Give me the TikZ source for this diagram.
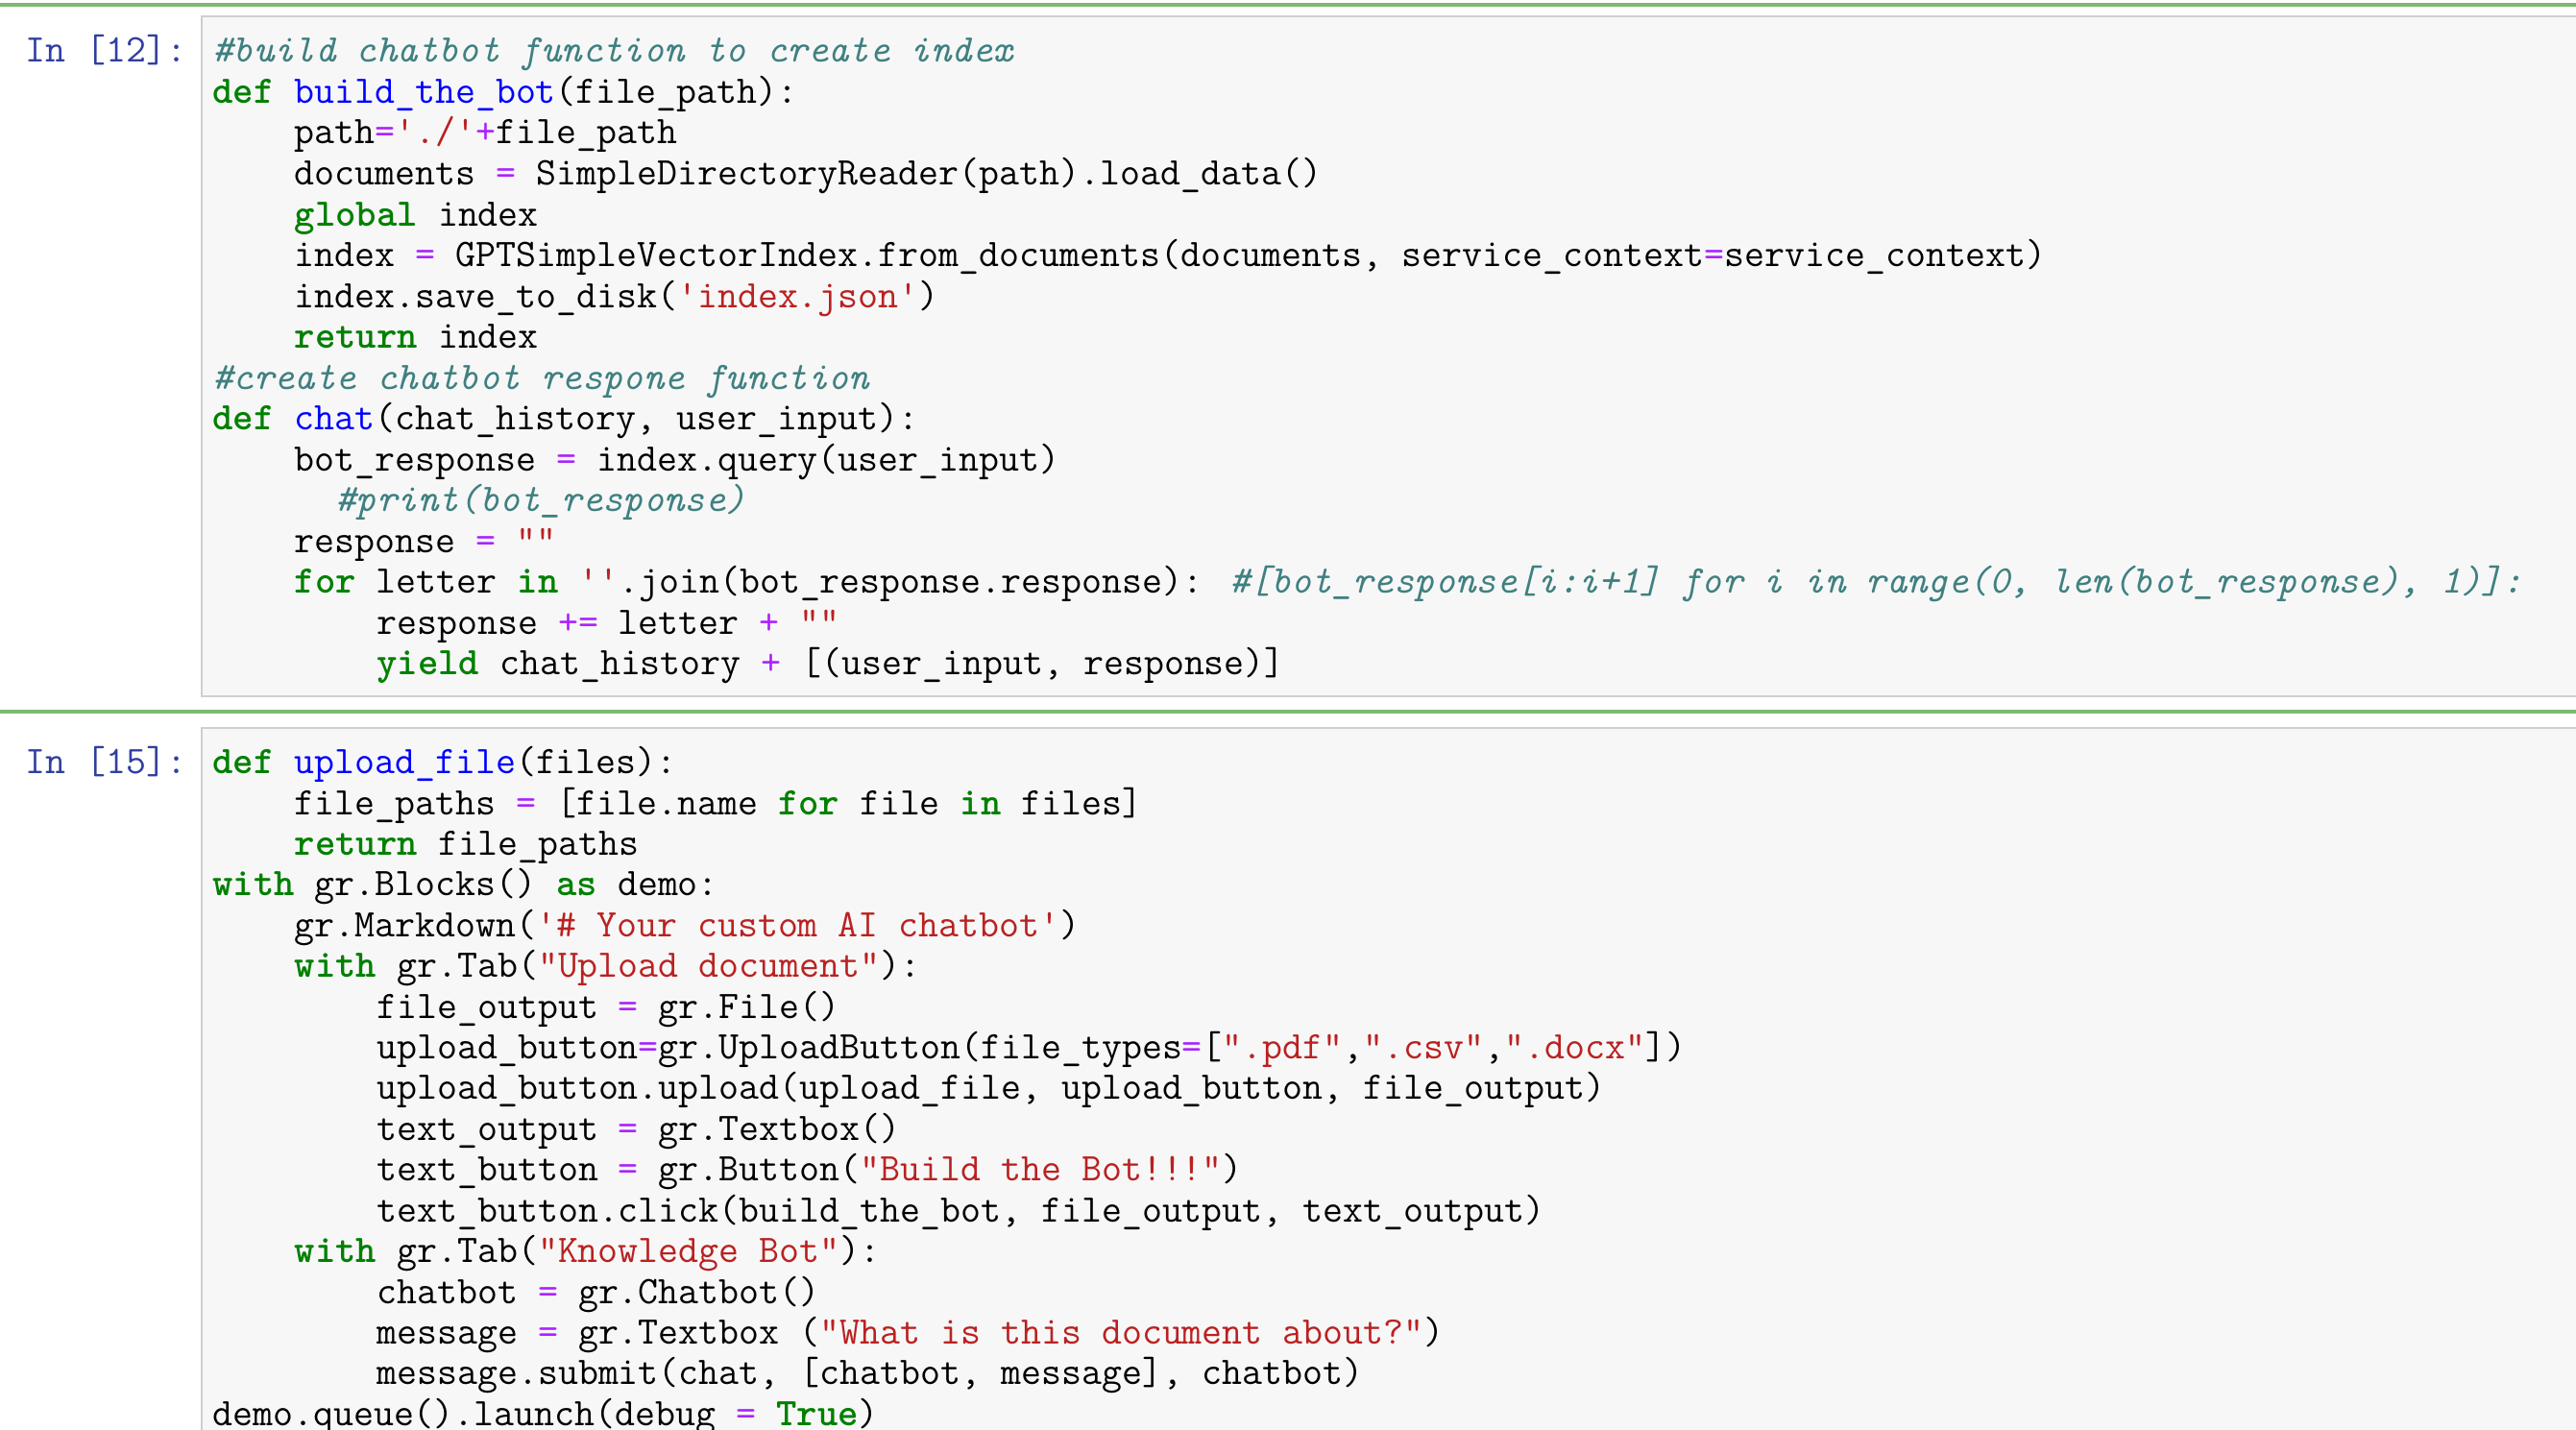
\documentclass[tikz,border=0pt]{standalone}
\usepackage{xcolor}
\definecolor{kwc}{HTML}{008000}
\definecolor{fnc}{HTML}{0000FF}
\definecolor{stc}{HTML}{BA2121}
\definecolor{opc}{HTML}{AA22FF}
\definecolor{cmc}{HTML}{408080}
\definecolor{prc}{HTML}{303F9F}
\definecolor{cellbg}{HTML}{F7F7F7}
\definecolor{cellbd}{HTML}{CFCFCF}
\definecolor{selc}{HTML}{7DBA6F}
\newcommand{\Kw}[1]{{\bfseries\color{kwc}#1}}
\newcommand{\Fn}[1]{{\color{fnc}#1}}
\newcommand{\Str}[1]{{\color{stc}#1}}
\newcommand{\Op}[1]{{\color{opc}#1}}
\newcommand{\Cm}[1]{{\itshape\color{cmc}#1}}
\newcommand{\sQ}{\textquotesingle}
\newcommand{\dQ}{\textquotedbl}
\tikzset{
  code/.style={anchor=base west, inner sep=0pt, font=\ttfamily\fontsize{11.9}{13}\selectfont},
  prompt/.style={code, text=prc},
  cellbox/.style={fill=cellbg, draw=cellbd, line width=0.6pt},
}
\begin{document}
\begin{tikzpicture}[x=0.5pt,y=-0.5pt]
\useasboundingbox (0,0) rectangle (1568,870);
\clip (0,0) rectangle (1568,870);
\fill[white] (0,0) rectangle (1568,870);
\draw[selc, line width=1.2pt] (0,3) -- (1568,3);
\draw[selc, line width=1.2pt] (0,433) -- (1568,433);
\draw[cellbox] (1575,10) -- (123,10) -- (123,424) -- (1575,424);
\draw[cellbox] (1575,443) -- (123,443) -- (123,880) -- (1575,880);
\def\cx#1{129+12.5*#1}
% cell 1
\node[prompt] (p1) at (15,38) {In [12]:};
\node[code] (a0) at (\cx{0},38.0) {\Cm{\#build chatbot function to create index}};
\node[code] (a1) at (\cx{0},62.9) {\Kw{def} \Fn{build\_the\_bot}(file\_path):};
\node[code] (a2) at (\cx{4},87.7) {path\Op{=}\Str{\sQ./\sQ}\Op{+}file\_path};
\node[code] (a3) at (\cx{4},112.6) {documents \Op{=} SimpleDirectoryReader(path).load\_data()};
\node[code] (a4) at (\cx{4},137.5) {\Kw{global} index};
\node[code] (a5) at (\cx{4},162.4) {index \Op{=} GPTSimpleVectorIndex.from\_documents(documents, service\_context\Op{=}service\_context)};
\node[code] (a6) at (\cx{4},187.2) {index.save\_to\_disk(\Str{\sQ index.json\sQ})};
\node[code] (a7) at (\cx{4},212.1) {\Kw{return} index};
\node[code] (a8) at (\cx{0},237.0) {\Cm{\#create chatbot respone function}};
\node[code] (a9) at (\cx{0},261.8) {\Kw{def} \Fn{chat}(chat\_history, user\_input):};
\node[code] (a10) at (\cx{4},286.7) {bot\_response \Op{=} index.query(user\_input)};
\node[code] (a11) at (\cx{6},311.6) {\Cm{\#print(bot\_response)}};
\node[code] (a12) at (\cx{4},336.4) {response \Op{=} \Str{\dQ\dQ}};
\node[code] (a13) at (\cx{4},361.3) {\Kw{for} letter \Kw{in} \Str{\sQ\sQ}.join(bot\_response.response): \Cm{\#[bot\_response[i:i+1] for i in range(0, len(bot\_response), 1)]:}};
\node[code] (a14) at (\cx{8},386.2) {response \Op{+=} letter \Op{+} \Str{\dQ\dQ}};
\node[code] (a15) at (\cx{8},411.0) {\Kw{yield} chat\_history \Op{+} [(user\_input, response)]};
% cell 2
\node[prompt] (p2) at (15,471) {In [15]:};
\node[code] (b0) at (\cx{0},471.0) {\Kw{def} \Fn{upload\_file}(files):};
\node[code] (b1) at (\cx{4},495.8) {file\_paths \Op{=} [file.name \Kw{for} file \Kw{in} files]};
\node[code] (b2) at (\cx{4},520.6) {\Kw{return} file\_paths};
\node[code] (b3) at (\cx{0},545.4) {\Kw{with} gr.Blocks() \Kw{as} demo:};
\node[code] (b4) at (\cx{4},570.2) {gr.Markdown(\Str{\sQ\# Your custom AI chatbot\sQ})};
\node[code] (b5) at (\cx{4},595.0) {\Kw{with} gr.Tab(\Str{\dQ Upload document\dQ}):};
\node[code] (b6) at (\cx{8},619.8) {file\_output \Op{=} gr.File()};
\node[code] (b7) at (\cx{8},644.6) {upload\_button\Op{=}gr.UploadButton(file\_types\Op{=}[\Str{\dQ.pdf\dQ},\Str{\dQ.csv\dQ},\Str{\dQ.docx\dQ}])};
\node[code] (b8) at (\cx{8},669.4) {upload\_button.upload(upload\_file, upload\_button, file\_output)};
\node[code] (b9) at (\cx{8},694.2) {text\_output \Op{=} gr.Textbox()};
\node[code] (b10) at (\cx{8},719.0) {text\_button \Op{=} gr.Button(\Str{\dQ Build the Bot!!!\dQ})};
\node[code] (b11) at (\cx{8},743.8) {text\_button.click(build\_the\_bot, file\_output, text\_output)};
\node[code] (b12) at (\cx{4},768.6) {\Kw{with} gr.Tab(\Str{\dQ Knowledge Bot\dQ}):};
\node[code] (b13) at (\cx{8},793.4) {chatbot \Op{=} gr.Chatbot()};
\node[code] (b14) at (\cx{8},818.2) {message \Op{=} gr.Textbox (\Str{\dQ What is this document about?\dQ})};
\node[code] (b15) at (\cx{8},843.0) {message.submit(chat, [chatbot, message], chatbot)};
\node[code] (b16) at (\cx{0},867.8) {demo.queue().launch(debug \Op{=} \Kw{True})};
\end{tikzpicture}
\end{document}
